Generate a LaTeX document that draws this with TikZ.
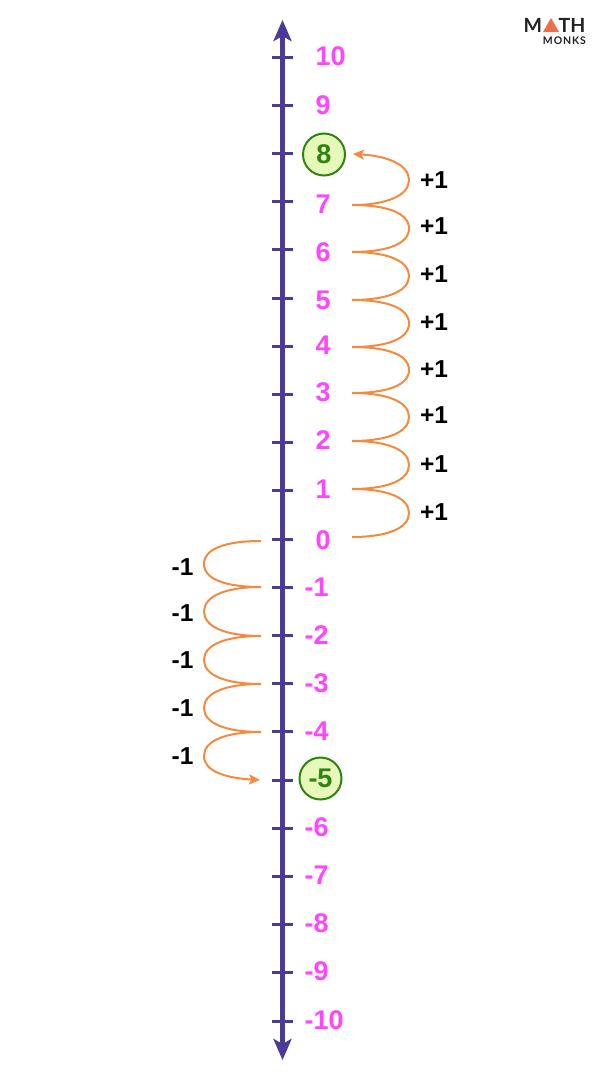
\documentclass[tikz,border=0pt]{standalone}
\usepackage{fontspec}
\usetikzlibrary{arrows.meta}
\setmainfont{Liberation Sans}
\newfontfamily\labfont{Liberation Sans Bold}
\newfontfamily\logofont{Lato}
\newfontfamily\logosmall[LetterSpace=8]{Lato}
\definecolor{axiscol}{HTML}{4B399B}
\definecolor{numcol}{HTML}{FF45FF}
\definecolor{arccol}{HTML}{F58A3E}
\definecolor{ringcol}{HTML}{2F8410}
\definecolor{ringfill}{HTML}{E6F9BA}
\definecolor{logocol}{HTML}{E8704A}
\definecolor{logoink}{HTML}{222222}
\tikzset{
  axisline/.style={draw=axiscol,line width=4.4pt,{Stealth[length=21pt,width=18pt,inset=5pt]}-{Stealth[length=21pt,width=18pt,inset=5pt]}},
  tickline/.style={draw=axiscol,line width=3pt},
  numlabel/.style={text=numcol,font=\labfont\fontsize{27}{27}\selectfont,inner sep=0pt,anchor=west},
  stepbel/.style={text=black,font=\labfont\fontsize{24.5}{24.5}\selectfont,inner sep=0pt},
  ring/.style={circle,draw=ringcol,fill=ringfill,line width=2pt,minimum size=42pt,inner sep=0pt,text=ringcol,font=\labfont\fontsize{27}{27}\selectfont},
  arcline/.style={draw=arccol,line width=2pt},
  arcarrow/.style={arcline,-{Stealth[length=11pt,width=10pt,inset=2.5pt]}},
}
\begin{document}
\begin{tikzpicture}[x=1pt,y=-1pt]
\useasboundingbox[fill=white] (0,0) rectangle (600,1076);
% axis
\coordinate (axtop) at (282.5,20);
\coordinate (axbot) at (282.5,1060);
\draw[axisline] (axtop) -- (axbot);
\foreach \n in {0,...,20}{
  \pgfmathsetmacro{\ty}{57+48.2*\n}
  \coordinate (tl\n) at (272,\ty);
  \coordinate (tr\n) at (293,\ty);
  \draw[tickline] (tl\n) -- (tr\n);
}
% numbers
\node[numlabel] (n10) at (315.5,56) {10};
\node[numlabel] (n9) at (315.5,105) {9};
\node[ring] (n8) at (324,154.5) {8};
\node[numlabel] (n7) at (315.5,204) {7};
\node[numlabel] (n6) at (315.5,252) {6};
\node[numlabel] (n5) at (315.5,300) {5};
\node[numlabel] (n4) at (315.5,345) {4};
\node[numlabel] (n3) at (315.5,392) {3};
\node[numlabel] (n2) at (315.5,440) {2};
\node[numlabel] (n1) at (315.5,489) {1};
\node[numlabel] (n0) at (315.5,540) {0};
\node[numlabel] (m1) at (304.5,587) {-1};
\node[numlabel] (m2) at (304.5,635) {-2};
\node[numlabel] (m3) at (304.5,683) {-3};
\node[numlabel] (m4) at (304.5,731) {-4};
\node[ring] (m5) at (320.5,778.5) {-5};
\node[numlabel] (m6) at (304.5,827) {-6};
\node[numlabel] (m7) at (304.5,875) {-7};
\node[numlabel] (m8) at (304.5,923) {-8};
\node[numlabel] (m9) at (304.5,971) {-9};
\node[numlabel] (m10) at (304.5,1020) {-10};
% right arcs
\coordinate (r0) at (352,537);
\coordinate (r1) at (352,489);
\coordinate (r2) at (352,441);
\coordinate (r3) at (352,393);
\coordinate (r4) at (352,347);
\coordinate (r5) at (352,300);
\coordinate (r6) at (352,252);
\coordinate (r7) at (352,205);
\coordinate (r8) at (353,154);
\foreach \a/\b/\my in {r0/r1/513,r1/r2/465,r2/r3/417,r3/r4/370,r4/r5/323.5,r5/r6/276,r6/r7/228.5}{
  \draw[arcline] (\a) .. controls +(36,0) and (409,\my+15) .. (409,\my)
     .. controls (409,\my-15) and +(36,0) .. (\b);
}
\draw[arcarrow] (r7) .. controls +(36,0) and (409,195) .. (409,180)
     .. controls (409,165) and (388,156) .. (r8);
% left arcs
\coordinate (l0) at (261,541);
\coordinate (l1) at (261,587);
\coordinate (l2) at (261,636);
\coordinate (l3) at (261,684);
\coordinate (l4) at (261,732);
\coordinate (l5) at (260,780);
\foreach \a/\b/\my in {l0/l1/564,l1/l2/611.5,l2/l3/660,l3/l4/708}{
  \draw[arcline] (\a) .. controls +(-36,0) and (204,\my-15) .. (204,\my)
     .. controls (204,\my+15) and +(-36,0) .. (\b);
}
\draw[arcarrow] (l4) .. controls +(-36,0) and (204,741) .. (204,756)
     .. controls (204,771) and (225,778) .. (l5);
% step labels
\foreach \i/\y in {1/180,2/226,3/274,4/322,5/369,6/415,7/464,8/512}{
  \node[stepbel] (plus\i) at (434,\y) {+1};
}
\foreach \i/\y in {1/567,2/613,3/660,4/708,5/756}{
  \node[stepbel] (minus\i) at (182.5,\y) {-1};
}
% logo
\node[inner sep=0pt,anchor=base west,text=logoink,font=\logofont\bfseries\fontsize{19.5}{19.5}\selectfont] (logoM) at (523.5,32) {M};
\fill[logocol] (543,32) -- (551,18) -- (559,32) -- cycle;
\node[inner sep=0pt,anchor=base east,text=logoink,font=\logofont\bfseries\fontsize{19.5}{19.5}\selectfont] (logoTH) at (585.5,32) {TH};
\node[inner sep=0pt,anchor=base east,text=logoink,font=\logosmall\fontsize{10.5}{10.5}\bfseries\selectfont] (logoMonks) at (586,44) {MONKS};
\end{tikzpicture}
\end{document}
